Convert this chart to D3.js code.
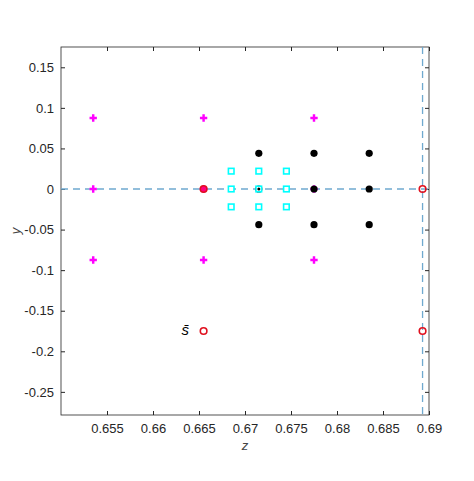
<!DOCTYPE html><html><head><script src="https://cdn.jsdelivr.net/npm/d3@7"></script>
<style>body{margin:0;background:#fff}text{font-family:"Liberation Sans",Arial,sans-serif}</style></head><body><svg id="c" width="474" height="481"></svg><script>
const xTicks=[0.655,0.66,0.665,0.67,0.675,0.68,0.685,0.69];
const yTicks=[0.15,0.1,0.05,0,-0.05,-0.1,-0.15,-0.2,-0.25];
const plusX=[0.6535,0.6655,0.6775], plusY=[0.0875,0,-0.0875];
const dotX=[0.6715,0.6775,0.6835], dotY=[0.044,0,-0.044];
const sqX=[0.6685,0.6715,0.6745], sqY=[0.022,0,-0.022];
const circlePts=[[0.6655,0],[0.6655,-0.175],[0.6893,0],[0.6893,-0.175]];
const vLineX=0.6893, hLineY=0;
const svg=d3.select("#c");
const L=61,R=429,T=47,B=415;
const x=d3.scaleLinear().domain([0.65,0.69]).range([L,R]);
const y=d3.scaleLinear().domain([-0.2785,0.175]).range([B,T]);
const grid=(a,b)=>a.flatMap(i=>b.map(j=>[i,j]));
const g=svg.append("g");
g.append("rect").attr("x",L).attr("y",T).attr("width",R-L).attr("height",B-T).attr("fill","#fff").attr("stroke","#262626").attr("stroke-width",0.8);
const ax=g.append("g").attr("transform",`translate(0,${B})`).call(d3.axisBottom(x).tickValues(xTicks).tickSize(-4).tickPadding(9).tickFormat(d=>d3.format("")(+d.toFixed(3))));
const ay=g.append("g").attr("transform",`translate(${L},0)`).call(d3.axisLeft(y).tickValues(yTicks).tickSize(-4).tickPadding(7).tickFormat(d=>+d.toFixed(2)));
g.append("g").attr("transform",`translate(0,${T})`).call(d3.axisTop(x).tickValues(xTicks).tickSize(-4).tickFormat(""));
g.append("g").attr("transform",`translate(${R},0)`).call(d3.axisRight(y).tickValues(yTicks).tickSize(-4).tickFormat(""));
g.selectAll(".domain").remove();
g.selectAll(".tick line").attr("stroke","#262626");
g.selectAll(".tick text").attr("font-size",13).attr("fill","#262626");
g.append("line").attr("x1",L).attr("x2",R).attr("y1",y(hLineY)).attr("y2",y(hLineY)).attr("stroke","#6fa9cf").attr("stroke-width",1.3).attr("stroke-dasharray","7,5");
g.append("line").attr("x1",x(vLineX)).attr("x2",x(vLineX)).attr("y1",T).attr("y2",B).attr("stroke","#6fa9cf").attr("stroke-width",1.3).attr("stroke-dasharray","7,5");
const P=d3.symbol().type(d3.symbolCross).size(30)();
g.selectAll(".p").data(grid(plusX,plusY)).join("path").attr("d",P).attr("transform",d=>`translate(${x(d[0])},${y(d[1])})`).attr("fill","#ff00ff");
g.selectAll(".d").data(grid(dotX,dotY)).join("circle").attr("cx",d=>x(d[0])).attr("cy",d=>y(d[1])).attr("r",3.6).attr("fill","#000");
g.selectAll(".s").data(grid(sqX,sqY)).join("rect").attr("x",d=>x(d[0])-2.8).attr("y",d=>y(d[1])-2.8).attr("width",5.6).attr("height",5.6).attr("fill","#fff").attr("stroke","#00ffff").attr("stroke-width",1.6);
g.append("circle").attr("cx",x(dotX[0])).attr("cy",y(0)).attr("r",1.5).attr("fill","#000");
g.selectAll(".c").data(circlePts).join("circle").attr("cx",d=>x(d[0])).attr("cy",d=>y(d[1])).attr("r",3.3).attr("fill",(d,i)=>i==0?"#ff0080":"none").attr("stroke","#e0101e").attr("stroke-width",1.6);
g.append("text").attr("x",x(circlePts[1][0])-22).attr("y",y(circlePts[1][1])+4).attr("font-family","Liberation Serif").attr("font-style","italic").attr("font-size",15).text("s̄");
g.append("text").attr("x",(L+R)/2).attr("y",450).attr("text-anchor","middle").attr("font-family","Liberation Serif").attr("font-style","italic").attr("font-size",13).attr("fill","#444").text("z");
g.append("text").attr("transform",`translate(20,${(T+B)/2}) rotate(-90)`).attr("text-anchor","middle").attr("font-family","Liberation Serif").attr("font-style","italic").attr("font-size",13).attr("fill","#444").text("y");
</script></body></html>
